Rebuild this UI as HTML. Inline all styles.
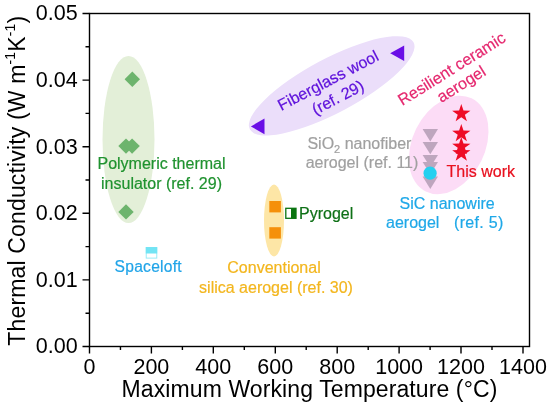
<!DOCTYPE html>
<html><head><meta charset="utf-8">
<style>
html,body{margin:0;padding:0;background:#fff;width:550px;height:406px;overflow:hidden}
svg{display:block;font-family:"Liberation Sans",sans-serif;will-change:transform}
</style></head><body>
<svg width="550" height="406" viewBox="0 0 550 406">
<rect width="550" height="406" fill="#fff"/>
<!-- ellipses -->
<ellipse cx="128.5" cy="139.5" rx="26" ry="83.5" fill="#e3efd8"/>
<ellipse cx="0" cy="0" rx="92.7" ry="27.1" fill="#ebdefa" transform="translate(331.7 85.8) rotate(-28)"/>
<ellipse cx="0" cy="0" rx="36.3" ry="51.9" fill="#fcdcf6" transform="translate(448.7 144.9) rotate(26.2)"/>
<ellipse cx="274" cy="220.5" rx="10" ry="36" fill="#fde6a6"/>

<!-- axes -->
<g stroke="#000" stroke-width="1.4" fill="none">
<rect x="89.5" y="13.5" width="440" height="333"/>
<path d="M82.5 346.5H89.5M85.5 313.2H89.5M82.5 279.9H89.5M85.5 246.6H89.5M82.5 213.3H89.5M85.5 180H89.5M82.5 146.7H89.5M85.5 113.4H89.5M82.5 80.1H89.5M85.5 46.8H89.5M82.5 13.5H89.5"/>
<path d="M89.5 346.5V353.5M120.46 346.5V350M151.4 346.5V353.5M182.4 346.5V350M213.3 346.5V353.5M244.3 346.5V350M275.3 346.5V353.5M306.2 346.5V350M337.2 346.5V353.5M368.2 346.5V350M399.1 346.5V353.5M430.1 346.5V350M461 346.5V353.5M492 346.5V350M523 346.5V353.5"/>
</g>
<!-- tick labels -->
<g font-size="21.5" fill="#000" text-anchor="end">
<text x="77.7" y="353.3">0.00</text>
<text x="77.7" y="286.8">0.01</text>
<text x="77.7" y="220.2">0.02</text>
<text x="77.7" y="153.5">0.03</text>
<text x="77.7" y="86.9">0.04</text>
<text x="77.7" y="20.2">0.05</text>
</g>
<g font-size="21.5" fill="#000" text-anchor="middle">
<text x="89.5" y="374">0</text>
<text x="151.4" y="374">200</text>
<text x="213.3" y="374">400</text>
<text x="275.3" y="374">600</text>
<text x="337.2" y="374">800</text>
<text x="399.1" y="374">1000</text>
<text x="461" y="374">1200</text>
<text x="523" y="374">1400</text>
</g>
<text x="309.5" y="397" font-size="23" letter-spacing="0.1" text-anchor="middle">Maximum Working Temperature (°C)</text>
<text transform="translate(25.3 180.7) rotate(-90)" font-size="23" letter-spacing="0.15" text-anchor="middle">Thermal Conductivity (W m<tspan font-size="14" dy="-10">-1</tspan><tspan dy="10">K</tspan><tspan font-size="14" dy="-10">-1</tspan><tspan dy="10">)</tspan></text>

<!-- green diamonds -->
<g fill="#6db46d">
<path d="M132.3 71.5L140 79.3L132.3 87L124.6 79.3Z"/>
<path d="M126 138.4L133.7 146.1L126 153.8L118.3 146.1Z"/>
<path d="M132.1 138.4L139.8 146.1L132.1 153.8L124.4 146.1Z"/>
<path d="M126 204.2L133.7 211.9L126 219.6L118.3 211.9Z"/>
</g>
<g font-size="16" fill="#1f922f" stroke="#1f922f" stroke-width="0.2" text-anchor="middle">
<text x="161.5" y="168.8">Polymeric thermal</text>
<text x="161.5" y="189">insulator (ref. 29)</text>
</g>

<!-- purple triangles -->
<g fill="#6a0ee6">
<path d="M250.9 126.4L264.5 118.6L264.5 134.2Z"/>
<path d="M390.2 53.2L404.2 45.4L404.2 61Z"/>
</g>
<g font-size="16" fill="#6014dc" stroke="#6014dc" stroke-width="0.2" text-anchor="middle" transform="translate(332 88) rotate(-27.5)">
<text x="0" y="-3">Fiberglass wool</text>
<text x="0.8" y="16.5">(ref. 29)</text>
</g>

<!-- Resilient -->
<g font-size="16.2" fill="#e5286f" stroke="#e5286f" stroke-width="0.2" text-anchor="middle" transform="translate(456.2 76) rotate(-32)">
<text x="0" y="-3">Resilient ceramic</text>
<text x="0" y="15">aerogel</text>
</g>

<!-- gray triangles -->
<g fill="#bea6be">
<path d="M422.6 129.1H438L430.3 141.4Z"/>
<path d="M422.6 141.9H438L430.3 154.2Z"/>
<path d="M422.6 155H438L430.3 167.3Z"/>
<path d="M422.6 162H438L430.3 174.3Z"/>
<path d="M422.6 176.6H438L430.3 188.9Z"/>
</g>
<circle cx="430.1" cy="173.2" r="6.6" fill="#24d0f0"/>
<g font-size="16" fill="#a0a0a0" stroke="#a0a0a0" stroke-width="0.2" text-anchor="middle">
<text x="359.4" y="148.6">SiO<tspan font-size="11" dy="4">2</tspan><tspan dy="-4"> nanofiber</tspan></text>
<text x="362" y="167.7">aerogel (ref. 11)</text>
</g>

<!-- stars -->
<g fill="#ee0c26">
<path d="M0.00 -9.60L2.20 -3.03L9.13 -2.97L3.57 1.16L5.64 7.77L0.00 3.75L-5.64 7.77L-3.57 1.16L-9.13 -2.97L-2.20 -3.03Z" transform="translate(461.3 113.6)"/>
<path d="M0.00 -9.60L2.20 -3.03L9.13 -2.97L3.57 1.16L5.64 7.77L0.00 3.75L-5.64 7.77L-3.57 1.16L-9.13 -2.97L-2.20 -3.03Z" transform="translate(461.3 133.6)"/>
<path d="M0.00 -9.60L2.20 -3.03L9.13 -2.97L3.57 1.16L5.64 7.77L0.00 3.75L-5.64 7.77L-3.57 1.16L-9.13 -2.97L-2.20 -3.03Z" transform="translate(461.3 146.6)"/>
<path d="M0.00 -9.60L2.20 -3.03L9.13 -2.97L3.57 1.16L5.64 7.77L0.00 3.75L-5.64 7.77L-3.57 1.16L-9.13 -2.97L-2.20 -3.03Z" transform="translate(461.3 153.1)"/>
</g>
<text x="446.5" y="176.5" font-size="16" fill="#e8101e" stroke="#e8101e" stroke-width="0.2">This work</text>

<!-- SiC -->
<g font-size="16" fill="#1ea8e8" stroke="#1ea8e8" stroke-width="0.2">
<text x="399.5" y="208.5">SiC nanowire</text>
<text x="386" y="228">aerogel</text>
<text x="454" y="228" letter-spacing="0.3">(ref. 5)</text>
</g>

<!-- orange squares -->
<g fill="#f5900a">
<rect x="269.3" y="201" width="11.6" height="11.4"/>
<rect x="269.3" y="227.2" width="11.6" height="11.4"/>
</g>
<!-- pyrogel -->
<rect x="285.8" y="208.3" width="10.2" height="10" fill="#fff" stroke="#0a7410" stroke-width="1.3"/>
<rect x="291" y="208.3" width="5" height="10" fill="#0a7410"/>
<text x="299" y="218.5" font-size="16" fill="#0e7016" stroke="#0e7016" stroke-width="0.2">Pyrogel</text>

<g font-size="16" fill="#f3b61e" stroke="#f3b61e" stroke-width="0.2" text-anchor="middle">
<text x="274" y="273">Conventional</text>
<text x="276" y="292.5">silica aerogel (ref. 30)</text>
</g>

<!-- spaceloft -->
<rect x="146.2" y="247.5" width="10.6" height="10.6" fill="#fff" stroke="#8eeaf6" stroke-width="0.9"/>
<rect x="145.8" y="247.1" width="11.4" height="6.4" fill="#72e4f4"/>
<text x="114.6" y="271.6" font-size="15.6" letter-spacing="0.25" fill="#20a4e8" stroke="#20a4e8" stroke-width="0.2">Spaceloft</text>
</svg>
</body></html>
